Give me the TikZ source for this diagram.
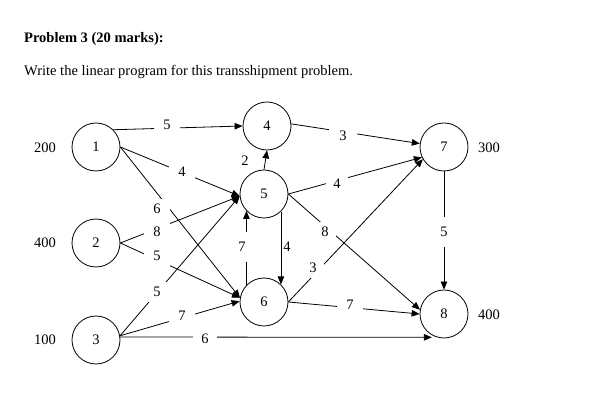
\documentclass[tikz,border=0pt]{standalone}
\usepackage{fontspec}
\setmainfont{Liberation Serif}
\usetikzlibrary{arrows.meta}
\begin{document}
\begin{tikzpicture}[x=1pt,y=-1pt,
  font=\fontsize{14.5}{17}\selectfont,
  stnode/.style={circle,draw,line width=0.8pt,minimum size=48pt,inner sep=0pt},
  arc/.style={line width=0.8pt,-{Triangle[length=8pt,width=6.5pt]}},
  wt/.style={fill=white,inner xsep=9pt,inner ysep=5pt},
  plain/.style={inner sep=1pt}]
\useasboundingbox[fill=white] (0,0) rectangle (598,403);
% text
\node[anchor=base west,inner sep=0pt] (title) at (24,42.5) {\bfseries Problem 3 (20 marks):};
\node[anchor=base west,inner sep=0pt] (task) at (24,76) {Write the linear program for this transshipment problem.};
% nodes
\node[stnode] (n1) at (96,147) {1};
\node[stnode] (n2) at (96,243) {2};
\node[stnode] (n3) at (96,340) {3};
\node[stnode] (n4) at (267,126) {4};
\node[stnode] (n5) at (264,194) {5};
\node[stnode] (n6) at (264,302) {6};
\node[stnode] (n7) at (444,147) {7};
\node[stnode] (n8) at (444,314) {8};
% supplies / demands
\node[plain] (s1) at (45,148) {200};
\node[plain] (s2) at (45,243) {400};
\node[plain] (s3) at (45,340) {100};
\node[plain] (d7) at (489,148) {300};
\node[plain] (d8) at (489,315) {400};
% arcs
\draw[arc] (n1.north east) -- (n4.west);
\draw[arc] (n1.east) -- (n5.185);
\draw[arc] (n1.east) -- (n6.170);
\draw[arc] (n2.east) -- (n5.185);
\draw[arc] (n2.east) -- (n6.170);
\draw[arc] (n3.10) -- (n5.185);
\draw[arc] (n3.10) -- (n6.178);
\draw[arc] (n3.7) -- ([xshift=-5pt]n8.253);
\draw[arc] (n5.north) -- (n4.south);
\draw[arc] (n6.136) -- (n5.224);
\draw[arc] (n5.-46) -- (n6.46);
\draw[arc] (n4.5) -- (n7.172);
\draw[arc] (n5.east) -- (n7.205);
\draw[arc] (n5.east) -- (n8.170);
\draw[arc] (n6.east) -- (n7.210);
\draw[arc] (n6.east) -- (n8.west);
\draw[arc] (n7.south) -- (n8.north);
% costs
\node[wt] (c14) at (167,125) {5};
\node[wt] (c15) at (182,172) {4};
\node[wt] (c16) at (157,209) {6};
\node[wt] (c25) at (157,232) {8};
\node[wt] (c26) at (157,256) {5};
\node[wt] (c35) at (157,292) {5};
\node[wt] (c36) at (182,316) {7};
\node[wt,inner xsep=8pt] (c38) at (205,339) {6};
\node[plain] (c54) at (245,161) {2};
\node[wt,inner xsep=6pt,inner ysep=10pt] (c65) at (242,247) {7};
\node[plain] (c56) at (287,247) {4};
\node[wt,inner xsep=10pt] (c47) at (343,136) {3};
\node[wt,inner xsep=7pt] (c57) at (337,184) {4};
\node[wt,inner xsep=7pt] (c58) at (325,232) {8};
\node[wt,inner xsep=7pt] (c67) at (313,268) {3};
\node[wt] (c68) at (350,305) {7};
\node[wt,inner xsep=4pt,inner ysep=10pt] (c78) at (444,232) {5};
\end{tikzpicture}
\end{document}
